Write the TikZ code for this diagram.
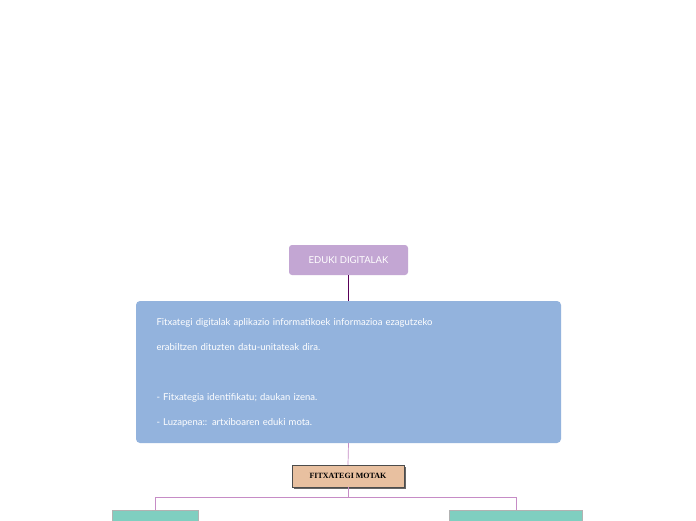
\documentclass[tikz,border=0pt]{standalone}
\usepackage{fontspec}
\setmainfont{Lato}
\newfontfamily\serifb{Liberation Serif}
\begin{document}
\begin{tikzpicture}[x=1pt,y=-1pt,
  conn/.style={draw=violet!45, line width=0.7pt},
  lbl/.style={font=\fontsize{9.5}{12}\selectfont, text=white}]
\useasboundingbox[fill=white] (0,0) rectangle (696,520);
\definecolor{lilac}{HTML}{C3A6D3}
\definecolor{bluebox}{HTML}{93B3DD}
\definecolor{tan}{HTML}{E8C0A0}
\definecolor{teal2}{HTML}{7FCFC0}
\node[fill=lilac, rounded corners=3pt, minimum width=119pt, minimum height=30pt, lbl] (top) at (348.5,260) {EDUKI DIGITALAK};
\node[fill=bluebox, rounded corners=4pt, minimum width=425pt, minimum height=142pt, drop shadow/.style={}] (desc) at (348.5,372) {};
\node[lbl, anchor=west, align=left, text width=400pt, font=\fontsize{9.5}{25}\selectfont] at (153,373) {Fitxategi digitalak aplikazio informatikoek informazioa ezagutzeko\\ erabiltzen dituzten datu-unitateak dira.\\[25pt] - Fitxategia identifikatu; daukan izena.\\ - Luzapena:: artxiboaren eduki mota.};
\fill[black!60] (294,467) rectangle (406,489);
\node[fill=tan, draw=black!70, minimum width=112pt, minimum height=22pt, font=\serifb\bfseries\fontsize{8}{10}\selectfont] (mot) at (348,476) {FITXATEGI MOTAK};
\draw[violet!70!black, line width=1pt] (top.south) -- (desc.north);
\draw[conn] (desc.south) -- (mot.north);
\coordinate (j) at (348,497);
\coordinate (l) at (155,497);
\coordinate (r) at (516,497);
\fill[black] (114,511) rectangle (199,522);
\fill[black] (451,511) rectangle (583,522);
\node[fill=teal2, draw=black!30, minimum width=86pt, minimum height=14pt, anchor=north west] (lb) at (112,510) {};
\node[fill=teal2, draw=black!30, minimum width=133pt, minimum height=14pt, anchor=north west] (rb) at (449,510) {};
\draw[conn] (mot.south) -- (j) (l) -- (r);
\draw[conn] (l) -- (l|-lb.north);
\draw[conn] (r) -- (r|-rb.north);
\end{tikzpicture}
\end{document}
